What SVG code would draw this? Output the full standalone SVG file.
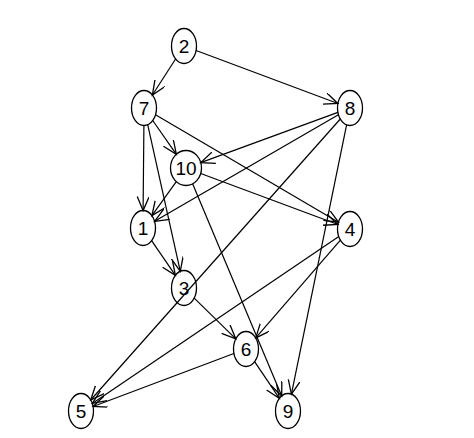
<svg xmlns="http://www.w3.org/2000/svg" width="474" height="438" viewBox="0 0 474 438">
<style>
.n ellipse{fill:none;stroke:#000;stroke-width:1.3}
.n text{font-family:"Liberation Sans",Arial,sans-serif;font-size:19px;fill:#000;text-anchor:middle;dominant-baseline:central}
#edges line{stroke:#000;stroke-width:1.2;marker-end:url(#ah)}
</style>
<defs>
<marker id="ah" markerUnits="userSpaceOnUse" markerWidth="18" markerHeight="14" refX="14" refY="6" orient="auto">
<path d="M0,0 L14,6 L0,12" fill="none" stroke="#000" stroke-width="1.3"/>
</marker>
</defs>
<rect width="474" height="438" fill="#fff"/>
<g id="edges">
<line x1="175.6" y1="59" x2="152.4" y2="95"/>
<line x1="196.1" y1="50.5" x2="337.9" y2="103.5"/>
<line x1="152.7" y1="120.5" x2="176.4" y2="154.3"/>
<line x1="143.9" y1="125.5" x2="143.1" y2="210.5"/>
<line x1="147.7" y1="124.7" x2="180.3" y2="271.3"/>
<line x1="155.5" y1="114.8" x2="338.5" y2="222.2"/>
<line x1="337.9" y1="112.4" x2="200.7" y2="162.6"/>
<line x1="338.4" y1="114.7" x2="154.6" y2="221.3"/>
<line x1="340.3" y1="119" x2="90.7" y2="400"/>
<line x1="346.6" y1="124.8" x2="291.4" y2="394.2"/>
<line x1="176.3" y1="181.6" x2="151.9" y2="215.6"/>
<line x1="200.7" y1="173.5" x2="337.9" y2="224.5"/>
<line x1="192.6" y1="183.8" x2="281.7" y2="395.9"/>
<line x1="151.6" y1="240.6" x2="175.4" y2="275.4"/>
<line x1="194.2" y1="298.1" x2="235.8" y2="338.9"/>
<line x1="340.4" y1="240.1" x2="255.7" y2="337.9"/>
<line x1="338.8" y1="236.6" x2="92.3" y2="403.4"/>
<line x1="233.9" y1="353.5" x2="93.1" y2="406.5"/>
<line x1="254.6" y1="361.7" x2="279.4" y2="398.3"/>
</g>
<g id="n2" class="n"><ellipse cx="184" cy="46" rx="12.5" ry="17.5"/><text x="184" y="46">2</text></g>
<g id="n7" class="n"><ellipse cx="144" cy="108" rx="12.5" ry="17.5"/><text x="144" y="108">7</text></g>
<g id="n8" class="n"><ellipse cx="350" cy="108" rx="12.5" ry="17.5"/><text x="350" y="108">8</text></g>
<g id="n10" class="n"><ellipse cx="186" cy="168" rx="15.5" ry="17.5"/><text x="186" y="168">10</text></g>
<g id="n1" class="n"><ellipse cx="143" cy="228" rx="12.5" ry="17.5"/><text x="143" y="228">1</text></g>
<g id="n4" class="n"><ellipse cx="350" cy="229" rx="12.5" ry="17.5"/><text x="350" y="229">4</text></g>
<g id="n3" class="n"><ellipse cx="184" cy="288" rx="12.5" ry="17.5"/><text x="184" y="288">3</text></g>
<g id="n6" class="n"><ellipse cx="246" cy="349" rx="12.5" ry="17.5"/><text x="246" y="349">6</text></g>
<g id="n5" class="n"><ellipse cx="81" cy="411" rx="12.5" ry="17.5"/><text x="81" y="411">5</text></g>
<g id="n9" class="n"><ellipse cx="288" cy="411" rx="12.5" ry="17.5"/><text x="288" y="411">9</text></g>
</svg>
